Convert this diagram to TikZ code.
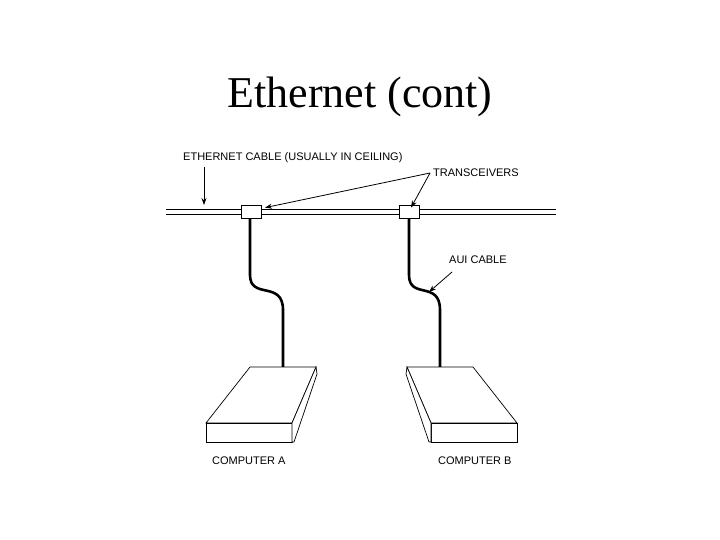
\documentclass[tikz,border=0pt]{standalone}
\usepackage{fontspec}
\setmainfont{Liberation Serif}
\newfontfamily\lab{Liberation Sans}
\usetikzlibrary{arrows.meta}
\begin{document}
\begin{tikzpicture}[x=1pt,y=-1pt,
  lbl/.style={font=\lab\fontsize{11}{13}\selectfont,inner sep=0pt,anchor=west},
  arr/.style={-{Stealth[length=7pt,width=5pt]},line width=0.8pt},
  box/.style={draw,fill=white,line width=0.7pt},
  aui/.style={line width=2.6pt}]
\useasboundingbox (0,0) rectangle (720,540);
\node[font=\fontsize{44}{50}\selectfont] (title) at (360,97) {Ethernet (cont)};
% ethernet cable
\draw[line width=0.8pt] (166,209) -- (556,209) (166,214) -- (556,214);
% AUI cables
\draw[aui] (250,218) -- (250,275) .. controls (250,300) and (283,280) .. (283,310) -- (283,367);
\draw[aui] (409,218) -- (409,275) .. controls (409,300) and (440,280) .. (440,310) -- (440,367);
\node[box,minimum width=20pt,minimum height=13pt,inner sep=0pt] (ta) at (251,211.5) {};
\node[box,minimum width=20pt,minimum height=13pt,inner sep=0pt] (tb) at (409,211.5) {};
% computers
\draw[box] (250,367) -- (316,367) -- (292,423) -- (206,423) -- cycle;
\draw[box] (206,423) rectangle (292,442);
\draw[box] (316,367) -- (317,374) -- (294,442) -- (292,442) -- (292,423) -- cycle;
\draw[box] (407,367) -- (473,367) -- (517,423) -- (431,423) -- cycle;
\draw[box] (431,423) rectangle (517,442);
\draw[box] (407,367) -- (406,374) -- (429,442) -- (431,442) -- (431,423) -- cycle;
\node[lbl] (ca) at (212,461) {COMPUTER A};
\node[lbl] (cb) at (438,461) {COMPUTER B};
% labels
\node[lbl] (eth) at (183,158) {ETHERNET CABLE (USUALLY IN CEILING)};
\coordinate (e1) at (204,167);
\draw[arr] (e1) -- (204,205);
\node[lbl] (tr) at (433,173) {TRANSCEIVERS};
\draw[arr] ([xshift=-3pt]tr.west) -- ([xshift=14pt,yshift=-3pt]ta.north);
\draw[arr] ([xshift=-3pt]tr.west) -- ([xshift=2pt,yshift=-3pt]tb.north);
\node[lbl] (aui) at (449,260) {AUI CABLE};
\coordinate (a1) at (452,272);
\draw[arr] (a1) -- (429,292);
\end{tikzpicture}
\end{document}
